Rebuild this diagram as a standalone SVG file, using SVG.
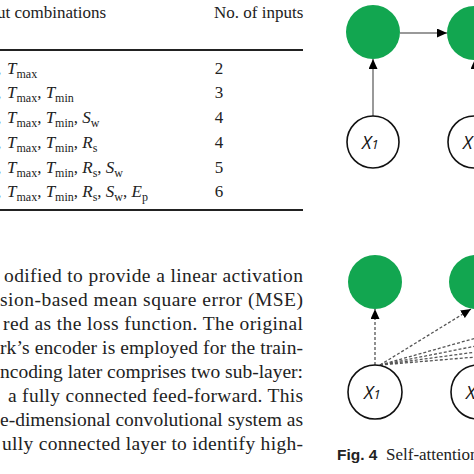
<svg xmlns="http://www.w3.org/2000/svg" width="474" height="474" viewBox="0 0 474 474">
<style>
.t{font-family:"Liberation Serif","Times New Roman",serif;fill:#222}
.tb{font-size:17px}
.it{font-style:italic}
.sub{font-size:12px}
.body{font-size:19.5px}
.rule{stroke:#222;stroke-width:2}
.g{fill:#12a650}
.xn{fill:#fff;stroke:#111;stroke-width:1.6}
.xl{font-family:"Open Sans","DejaVu Sans",sans-serif;font-style:italic;fill:#111}
.solid{stroke:#777;stroke-width:1.5;fill:none}
.dash{stroke:#555;stroke-width:1.3;stroke-dasharray:3 2;fill:none}
.cap{font-family:"Liberation Sans",Arial,sans-serif;font-weight:bold;font-size:15.5px;fill:#222}
</style>
<defs>
<marker id="ah" markerUnits="userSpaceOnUse" markerWidth="10" markerHeight="9" refX="10" refY="4.5" orient="auto">
<path d="M0,0 L10,4.5 L0,9 z" fill="#000"/>
</marker>
</defs>
<rect width="474" height="474" fill="#fff"/>

<g id="table">
<text class="t tb" x="-3" y="18">ut combinations</text>
<text class="t tb" x="214" y="18">No. of inputs</text>
<line class="rule" x1="0" y1="50" x2="303" y2="50"/>
<text class="t tb" x="-3" y="74">, <tspan class="it" x="7">T</tspan><tspan class="sub" dy="4">max</tspan></text>
<text class="t tb" x="-3" y="98">, <tspan class="it" x="7">T</tspan><tspan class="sub" dy="4">max</tspan><tspan dy="-4">, </tspan><tspan class="it">T</tspan><tspan class="sub" dy="4">min</tspan></text>
<text class="t tb" x="-3" y="123">, <tspan class="it" x="7">T</tspan><tspan class="sub" dy="4">max</tspan><tspan dy="-4">, </tspan><tspan class="it">T</tspan><tspan class="sub" dy="4">min</tspan><tspan dy="-4">, </tspan><tspan class="it">S</tspan><tspan class="sub" dy="4">w</tspan></text>
<text class="t tb" x="-3" y="148">, <tspan class="it" x="7">T</tspan><tspan class="sub" dy="4">max</tspan><tspan dy="-4">, </tspan><tspan class="it">T</tspan><tspan class="sub" dy="4">min</tspan><tspan dy="-4">, </tspan><tspan class="it">R</tspan><tspan class="sub" dy="4">s</tspan></text>
<text class="t tb" x="-3" y="173">, <tspan class="it" x="7">T</tspan><tspan class="sub" dy="4">max</tspan><tspan dy="-4">, </tspan><tspan class="it">T</tspan><tspan class="sub" dy="4">min</tspan><tspan dy="-4">, </tspan><tspan class="it">R</tspan><tspan class="sub" dy="4">s</tspan><tspan dy="-4">, </tspan><tspan class="it">S</tspan><tspan class="sub" dy="4">w</tspan></text>
<text class="t tb" x="-3" y="197">, <tspan class="it" x="7">T</tspan><tspan class="sub" dy="4">max</tspan><tspan dy="-4">, </tspan><tspan class="it">T</tspan><tspan class="sub" dy="4">min</tspan><tspan dy="-4">, </tspan><tspan class="it">R</tspan><tspan class="sub" dy="4">s</tspan><tspan dy="-4">, </tspan><tspan class="it">S</tspan><tspan class="sub" dy="4">w</tspan><tspan dy="-4">, </tspan><tspan class="it">E</tspan><tspan class="sub" dy="4">p</tspan></text>
<g class="t tb" text-anchor="middle">
<text x="219" y="74">2</text>
<text x="219" y="98">3</text>
<text x="219" y="123">4</text>
<text x="219" y="148">4</text>
<text x="219" y="173">5</text>
<text x="219" y="197">6</text>
</g>
<line class="rule" x1="0" y1="210" x2="303" y2="210"/>
</g>

<g id="paragraph" class="t body">
<text x="4" y="282" textLength="299" lengthAdjust="spacing">odified to provide a linear activation</text>
<text x="0" y="306" textLength="303" lengthAdjust="spacing">sion-based mean square error (MSE)</text>
<text x="3" y="330" textLength="300" lengthAdjust="spacing">red as the loss function. The original</text>
<text x="0" y="354" textLength="303" lengthAdjust="spacing">rk’s encoder is employed for the train-</text>
<text x="0" y="378" textLength="303" lengthAdjust="spacing">ncoding later comprises two sub-layer:</text>
<text x="8" y="402" textLength="295" lengthAdjust="spacing">a fully connected feed-forward. This</text>
<text x="0" y="426" textLength="303" lengthAdjust="spacing">e-dimensional convolutional system as</text>
<text x="2" y="450" textLength="301" lengthAdjust="spacing">ully connected layer to identify high-</text>
</g>

<g id="connectors">
<line class="solid" x1="400" y1="33" x2="447" y2="33" marker-end="url(#ah)"/>
<line class="solid" x1="373" y1="116" x2="373" y2="59" marker-end="url(#ah)"/>
<line class="solid" x1="475" y1="116" x2="475" y2="59" marker-end="url(#ah)"/>
<line class="dash" x1="375" y1="365" x2="375" y2="309" marker-end="url(#ah)"/>
<line class="dash" x1="380" y1="365" x2="471" y2="309" marker-end="url(#ah)"/>
<line class="dash" x1="380" y1="365" x2="476" y2="338"/>
<line class="dash" x1="380" y1="365" x2="476" y2="346"/>
<line class="dash" x1="380" y1="365" x2="476" y2="352"/>
<line class="dash" x1="380" y1="365" x2="476" y2="357"/>
</g>

<g id="h1-top"><circle class="g" cx="373" cy="32" r="27"/></g>
<g id="h2-top"><circle class="g" cx="474" cy="33" r="27"/></g>
<g id="x1-top"><circle class="xn" cx="373" cy="142" r="26"/><text class="xl" x="362" y="149" font-size="18">X<tspan font-size="13">1</tspan></text></g>
<g id="x2-top"><circle class="xn" cx="474" cy="142" r="26"/><text class="xl" x="463" y="149" font-size="18">X</text></g>

<g id="h1-bot"><circle class="g" cx="375" cy="282" r="27"/></g>
<g id="h2-bot"><circle class="g" cx="476" cy="282" r="27"/></g>
<g id="x1-bot"><circle class="xn" cx="375" cy="392" r="27"/><text class="xl" x="364" y="399" font-size="18">X<tspan font-size="13">1</tspan></text></g>
<g id="x2-bot"><circle class="xn" cx="478" cy="392" r="27"/><text class="xl" x="466" y="399" font-size="18">X</text></g>

<g id="caption">
<text class="cap" x="337" y="460">Fig. 4</text>
<text class="t" x="386" y="460" font-size="17">Self-attention</text>
</g>
</svg>
